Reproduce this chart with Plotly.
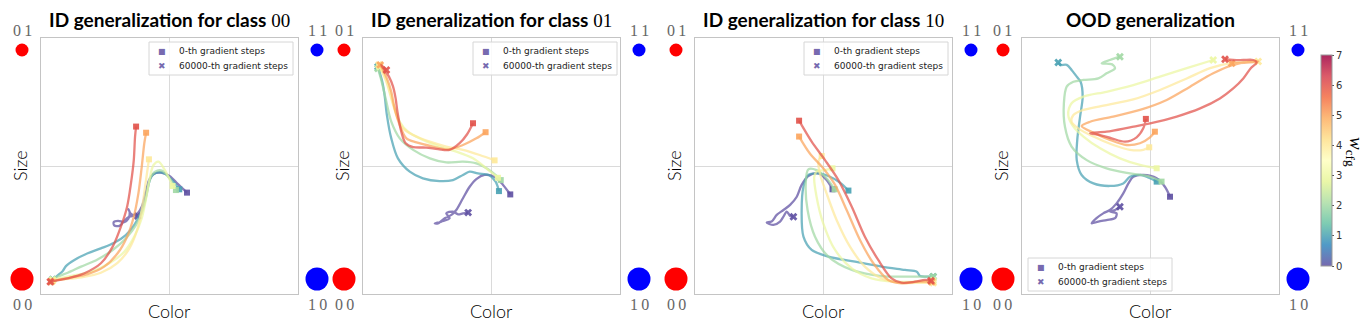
import plotly.graph_objects as go
from plotly.colors import diverging, make_colorscale, sample_colorscale

# ---------------- data ----------------
W_CFG = [0, 1, 2, 3, 4, 5, 6]
W_MAX = 7
PANEL_TITLES = ["ID generalization for class", "ID generalization for class",
                "ID generalization for class", "OOD generalization"]
PANEL_CLASS = ["00", "01", "10", ""]
LEGEND_LABELS = ["0-th gradient steps", "60000-th gradient steps"]
CORNER_LABELS = ["01", "00", "11", "10"]

# trajectories (Color, Size) for each w_cfg, from 0-th step to 60000-th step
class00_x = [
    [0.568, 0.532, 0.50, 0.467, 0.438, 0.42, 0.407, 0.392, 0.376, 0.357, 0.34, 0.324, 0.305, 0.285, 0.283, 0.30, 0.324, 0.34, 0.345, 0.34, 0.35, 0.376],
    [0.538, 0.512, 0.48, 0.454, 0.431, 0.418, 0.405, 0.387, 0.363, 0.33, 0.285, 0.233, 0.182, 0.13, 0.097, 0.084, 0.065, 0.045],
    [0.525, 0.50, 0.47, 0.444, 0.425, 0.412, 0.396, 0.37, 0.33, 0.279, 0.22, 0.156, 0.104, 0.065, 0.045],
    [0.512, 0.482, 0.457, 0.438, 0.423, 0.409, 0.392, 0.363, 0.324, 0.266, 0.195, 0.123, 0.071, 0.045],
    [0.42, 0.415, 0.405, 0.392, 0.374, 0.344, 0.298, 0.233, 0.156, 0.091, 0.045],
    [0.409, 0.402, 0.392, 0.379, 0.361, 0.335, 0.298, 0.246, 0.182, 0.117, 0.065, 0.039],
    [0.37, 0.366, 0.361, 0.35, 0.335, 0.311, 0.279, 0.233, 0.169, 0.104, 0.058, 0.036],
]
class00_y = [
    [0.396, 0.430, 0.461, 0.474, 0.469, 0.443, 0.393, 0.341, 0.315, 0.305, 0.30, 0.286, 0.266, 0.268, 0.281, 0.286, 0.281, 0.294, 0.32, 0.331, 0.313, 0.305],
    [0.409, 0.443, 0.471, 0.475, 0.461, 0.426, 0.367, 0.315, 0.27, 0.23, 0.20, 0.178, 0.159, 0.133, 0.109, 0.089, 0.073, 0.057],
    [0.406, 0.452, 0.482, 0.478, 0.452, 0.393, 0.328, 0.27, 0.217, 0.172, 0.135, 0.107, 0.083, 0.068, 0.057],
    [0.422, 0.484, 0.517, 0.504, 0.452, 0.374, 0.296, 0.224, 0.165, 0.12, 0.087, 0.072, 0.061, 0.055],
    [0.526, 0.491, 0.419, 0.328, 0.25, 0.178, 0.122, 0.083, 0.065, 0.057, 0.052],
    [0.63, 0.589, 0.497, 0.393, 0.302, 0.224, 0.159, 0.107, 0.078, 0.065, 0.055, 0.048],
    [0.654, 0.615, 0.523, 0.432, 0.341, 0.263, 0.185, 0.12, 0.081, 0.061, 0.052, 0.048],
]

class01_x = [
    [0.573, 0.545, 0.512, 0.473, 0.441, 0.415, 0.389, 0.363, 0.344, 0.318, 0.292, 0.279, 0.305, 0.337, 0.324, 0.35, 0.37, 0.389, 0.409],
    [0.529, 0.516, 0.49, 0.447, 0.415, 0.389, 0.35, 0.298, 0.233, 0.182, 0.136, 0.11, 0.093, 0.084, 0.075, 0.062, 0.058],
    [0.536, 0.5, 0.441, 0.389, 0.324, 0.26, 0.195, 0.143, 0.11, 0.088, 0.071, 0.058],
    [0.525, 0.48, 0.428, 0.363, 0.298, 0.233, 0.175, 0.143, 0.119, 0.101, 0.08, 0.065],
    [0.512, 0.454, 0.389, 0.324, 0.26, 0.195, 0.156, 0.13, 0.11, 0.091, 0.071, 0.062],
    [0.477, 0.441, 0.389, 0.331, 0.272, 0.208, 0.169, 0.143, 0.123, 0.11, 0.093, 0.075, 0.067],
    [0.428, 0.405, 0.376, 0.337, 0.292, 0.246, 0.195, 0.166, 0.149, 0.134, 0.127, 0.117, 0.101, 0.084, 0.071, 0.091],
]
class01_y = [
    [0.389, 0.426, 0.458, 0.465, 0.449, 0.419, 0.374, 0.328, 0.309, 0.296, 0.276, 0.276, 0.283, 0.296, 0.315, 0.322, 0.311, 0.315, 0.318],
    [0.402, 0.439, 0.465, 0.471, 0.478, 0.465, 0.445, 0.441, 0.452, 0.478, 0.53, 0.608, 0.699, 0.777, 0.829, 0.875, 0.888],
    [0.445, 0.478, 0.51, 0.517, 0.514, 0.53, 0.563, 0.608, 0.673, 0.764, 0.836, 0.881],
    [0.454, 0.491, 0.53, 0.556, 0.576, 0.602, 0.634, 0.673, 0.738, 0.803, 0.862, 0.888],
    [0.522, 0.543, 0.563, 0.576, 0.595, 0.621, 0.647, 0.699, 0.764, 0.829, 0.875, 0.895],
    [0.632, 0.608, 0.582, 0.565, 0.576, 0.592, 0.608, 0.66, 0.725, 0.79, 0.842, 0.881, 0.895],
    [0.667, 0.624, 0.589, 0.563, 0.566, 0.572, 0.574, 0.589, 0.634, 0.712, 0.764, 0.81, 0.849, 0.875, 0.895, 0.875],
]

class10_x = [
    [0.535, 0.512, 0.48, 0.441, 0.415, 0.396, 0.37, 0.344, 0.318, 0.298, 0.279, 0.305, 0.331, 0.344, 0.357, 0.37, 0.383],
    [0.597, 0.564, 0.519, 0.48, 0.441, 0.422, 0.415, 0.422, 0.454, 0.519, 0.623, 0.726, 0.817, 0.863, 0.876, 0.908, 0.927],
    [0.543, 0.512, 0.473, 0.441, 0.431, 0.438, 0.467, 0.519, 0.61, 0.726, 0.83, 0.927],
    [0.535, 0.506, 0.473, 0.464, 0.473, 0.499, 0.545, 0.61, 0.687, 0.778, 0.869, 0.927],
    [0.493, 0.48, 0.486, 0.512, 0.551, 0.603, 0.661, 0.726, 0.804, 0.882, 0.927],
    [0.405, 0.447, 0.499, 0.545, 0.59, 0.642, 0.694, 0.752, 0.804, 0.869, 0.921],
    [0.405, 0.454, 0.506, 0.558, 0.61, 0.661, 0.713, 0.765, 0.804, 0.856, 0.895, 0.918],
]
class10_y = [
    [0.409, 0.445, 0.471, 0.461, 0.426, 0.38, 0.348, 0.328, 0.309, 0.283, 0.279, 0.27, 0.283, 0.302, 0.322, 0.305, 0.302],
    [0.404, 0.435, 0.461, 0.471, 0.465, 0.419, 0.328, 0.224, 0.172, 0.146, 0.126, 0.107, 0.094, 0.087, 0.07, 0.068, 0.068],
    [0.409, 0.452, 0.484, 0.487, 0.432, 0.328, 0.224, 0.146, 0.094, 0.07, 0.068, 0.068],
    [0.491, 0.484, 0.478, 0.458, 0.38, 0.276, 0.172, 0.1, 0.061, 0.048, 0.048, 0.052],
    [0.539, 0.517, 0.471, 0.393, 0.289, 0.185, 0.107, 0.061, 0.044, 0.044, 0.044],
    [0.615, 0.549, 0.491, 0.426, 0.328, 0.211, 0.12, 0.055, 0.042, 0.048, 0.048],
    [0.677, 0.595, 0.523, 0.445, 0.341, 0.224, 0.133, 0.061, 0.044, 0.048, 0.055, 0.052],
]

ood_x = [
    [0.576, 0.556, 0.524, 0.472, 0.433, 0.414, 0.394, 0.368, 0.342, 0.316, 0.29, 0.271, 0.297, 0.329, 0.362, 0.368, 0.342, 0.362, 0.381],
    [0.524, 0.498, 0.459, 0.42, 0.394, 0.342, 0.278, 0.232, 0.213, 0.215, 0.226, 0.236, 0.228, 0.213, 0.193, 0.174, 0.148, 0.141],
    [0.543, 0.498, 0.42, 0.329, 0.252, 0.193, 0.167, 0.163, 0.174, 0.2, 0.239, 0.297, 0.329, 0.362, 0.349, 0.31, 0.342, 0.381],
    [0.524, 0.459, 0.381, 0.304, 0.239, 0.2, 0.18, 0.193, 0.239, 0.329, 0.433, 0.537, 0.641, 0.744],
    [0.495, 0.472, 0.42, 0.355, 0.278, 0.219, 0.193, 0.2, 0.239, 0.329, 0.433, 0.537, 0.641, 0.732, 0.822, 0.887, 0.919],
    [0.517, 0.498, 0.459, 0.407, 0.342, 0.278, 0.232, 0.265, 0.355, 0.459, 0.563, 0.654, 0.744, 0.822, 0.9, 0.919, 0.874, 0.816],
    [0.482, 0.472, 0.446, 0.401, 0.349, 0.304, 0.265, 0.329, 0.42, 0.511, 0.602, 0.693, 0.77, 0.822, 0.861, 0.89, 0.913, 0.9, 0.861, 0.822, 0.79],
]
ood_y = [
    [0.38, 0.419, 0.452, 0.465, 0.458, 0.432, 0.393, 0.354, 0.328, 0.315, 0.296, 0.276, 0.283, 0.289, 0.296, 0.315, 0.322, 0.328, 0.341],
    [0.439, 0.452, 0.465, 0.458, 0.432, 0.422, 0.432, 0.465, 0.523, 0.602, 0.693, 0.771, 0.829, 0.849, 0.875, 0.895, 0.895, 0.904],
    [0.439, 0.458, 0.471, 0.491, 0.523, 0.576, 0.654, 0.745, 0.81, 0.829, 0.836, 0.842, 0.862, 0.882, 0.898, 0.901, 0.914, 0.927],
    [0.491, 0.504, 0.53, 0.569, 0.615, 0.654, 0.699, 0.745, 0.771, 0.79, 0.816, 0.849, 0.882, 0.914],
    [0.573, 0.563, 0.563, 0.582, 0.615, 0.647, 0.673, 0.699, 0.719, 0.738, 0.76, 0.797, 0.842, 0.882, 0.904, 0.908, 0.908],
    [0.634, 0.612, 0.589, 0.582, 0.602, 0.63, 0.656, 0.673, 0.693, 0.719, 0.758, 0.81, 0.862, 0.895, 0.908, 0.908, 0.904, 0.901],
    [0.684, 0.647, 0.612, 0.595, 0.608, 0.621, 0.628, 0.634, 0.651, 0.669, 0.693, 0.725, 0.764, 0.803, 0.842, 0.882, 0.904, 0.914, 0.914, 0.914, 0.917],
]

PANELS_X = [class00_x, class01_x, class10_x, ood_x]
PANELS_Y = [class00_y, class01_y, class10_y, ood_y]

# ---------------- style / layout (pixels) ----------------
FIG_W, FIG_H = 1367, 325
BOX_LEFT = [41, 363, 695, 1022]
BOX_W = 257
BOX_TOP, BOX_BOTTOM = 38, 294
LEGEND_BOXES = [(149, 42), (473, 42), (804, 42), (1028, 258)]  # left, top
LEG_W, LEG_H = 144, 33


def px(x):
    return x / FIG_W


def py(y):
    return 1 - y / FIG_H


base_scale = make_colorscale(diverging.Spectral_r)
line_colors = sample_colorscale(base_scale, [w / W_MAX for w in W_CFG])


def with_alpha(rgb, a):
    return rgb.replace("rgb(", "rgba(").replace(")", f",{a})")


cbar_scale = [[i / 10, with_alpha(c, 0.85)] for i, c in
              enumerate(sample_colorscale(base_scale, [i / 10 for i in range(11)]))]
legend_color = with_alpha(line_colors[0], 0.85)

SANS = "Lato, 'Noto Sans', sans-serif"
SERIF = "'Liberation Serif', 'DejaVu Serif', serif"

fig = go.Figure()
for p in range(4):
    xa = "x" if p == 0 else f"x{p + 1}"
    ya = "y" if p == 0 else f"y{p + 1}"
    for k, w in enumerate(W_CFG):
        xs, ys = PANELS_X[p][k], PANELS_Y[p][k]
        col = line_colors[k]
        fig.add_trace(go.Scatter(
            x=xs, y=ys, mode="lines", xaxis=xa, yaxis=ya,
            line=dict(color=col, width=2.3, shape="spline", smoothing=0.9),
            opacity=0.72, showlegend=False, hoverinfo="skip"))
        fig.add_trace(go.Scatter(
            x=[xs[0]], y=[ys[0]], mode="markers", xaxis=xa, yaxis=ya,
            marker=dict(symbol="square", size=6, color=col), opacity=0.9,
            showlegend=False, hoverinfo="skip"))
        fig.add_trace(go.Scatter(
            x=[xs[-1]], y=[ys[-1]], mode="markers", xaxis=xa, yaxis=ya,
            marker=dict(symbol="x", size=7, color=col), opacity=0.9,
            showlegend=False, hoverinfo="skip"))

# colorbar
fig.add_trace(go.Scatter(
    x=[None], y=[None], mode="markers", xaxis="x4", yaxis="y4", showlegend=False,
    marker=dict(color=[0], cmin=0, cmax=W_MAX, colorscale=cbar_scale, showscale=True,
                colorbar=dict(x=px(1321), xanchor="left", xpad=0, ypad=0,
                              y=py(160.5), yanchor="middle", len=211 / FIG_H,
                              thickness=11, outlinewidth=1, outlinecolor="#999",
                              tickvals=list(range(W_MAX + 1)), ticks="outside", ticklen=2,
                              tickcolor="#555",
                              tickfont=dict(family="DejaVu Sans", size=10, color="#333")))))

layout = dict(width=FIG_W, height=FIG_H, margin=dict(l=0, r=0, t=0, b=0),
              paper_bgcolor="white", plot_bgcolor="white", showlegend=False)
ydom = [py(BOX_BOTTOM), py(BOX_TOP)]
annotations, shapes = [], []
for p in range(4):
    suf = "" if p == 0 else str(p + 1)
    left, right = BOX_LEFT[p], BOX_LEFT[p] + BOX_W
    axis_common = dict(range=[0, 1], showline=True, mirror=True, linecolor="#c4c4c4",
                       linewidth=1, showgrid=True, gridcolor="#dadada", gridwidth=1,
                       tickvals=[0.5], showticklabels=False, ticks="", zeroline=False,
                       fixedrange=True)
    layout["xaxis" + suf] = dict(domain=[px(left), px(right)], anchor="y" + suf, **axis_common)
    layout["yaxis" + suf] = dict(domain=ydom, anchor="x" + suf, **axis_common)
    cx = (left + right) / 2
    # title
    ttl = f"<b>{PANEL_TITLES[p]}</b>"
    if PANEL_CLASS[p]:
        ttl += f" <span style=\"font-family:'Liberation Serif';font-weight:normal\">{PANEL_CLASS[p]}</span>"
    annotations.append(dict(text=ttl, xref="paper", yref="paper", x=px(cx), y=py(19.5),
                            showarrow=False, yanchor="middle", xanchor="center",
                            font=dict(family=SANS, size=19, color="black")))
    annotations.append(dict(text="Color", xref="paper", yref="paper", x=px(cx), y=py(311),
                            showarrow=False, yanchor="middle", xanchor="center",
                            font=dict(family=SANS, size=18, color="black", weight=300)))
    annotations.append(dict(text="Size", xref="paper", yref="paper", x=px(left - 21),
                            y=py((BOX_TOP + BOX_BOTTOM) / 2), showarrow=False, textangle=-90,
                            xanchor="center", yanchor="middle",
                            font=dict(family=SANS, size=18, color="black", weight=300)))
    # corner prototypes (circles) and their labels
    lx, rx = left - 19, right + 19
    for (cxp, cyp, r, col) in [(lx, 50, 6.5, "#ff0000"), (lx, 279, 11.5, "#ff0000"),
                               (rx, 50, 6.5, "#0000ff"), (rx, 279, 11.5, "#0000ff")]:
        shapes.append(dict(type="circle", xref="paper", yref="paper",
                           xsizemode="pixel", ysizemode="pixel",
                           xanchor=px(cxp), yanchor=py(cyp),
                           x0=-r, x1=r, y0=-r, y1=r,
                           fillcolor=col, line=dict(width=0), layer="above"))
    for lab, lxp, lyp in zip(CORNER_LABELS, [lx, lx, rx, rx], [30, 304, 30, 304]):
        annotations.append(dict(text=lab[0] + "\u2009" + lab[1], xref="paper", yref="paper",
                                x=px(lxp), y=py(lyp), showarrow=False,
                                xanchor="center", yanchor="middle",
                                font=dict(family=SERIF, size=16, color="#666")))
    # legend box
    gl, gt = LEGEND_BOXES[p]
    shapes.append(dict(type="rect", xref="paper", yref="paper",
                       x0=px(gl), x1=px(gl + LEG_W), y0=py(gt + LEG_H), y1=py(gt),
                       fillcolor="rgba(255,255,255,0.85)", line=dict(color="#d6d6d6", width=1),
                       layer="above"))
    for j, (glyph, gsize) in enumerate([("\u25A0", 8), ("\u2716", 9)]):
        rowy = gt + 9 + 15 * j
        annotations.append(dict(text=glyph, xref="paper", yref="paper", x=px(gl + 13),
                                y=py(rowy), showarrow=False, xanchor="center", yanchor="middle",
                                font=dict(family="DejaVu Sans", size=gsize, color=legend_color)))
        annotations.append(dict(text=LEGEND_LABELS[j], xref="paper", yref="paper",
                                x=px(gl + 28), y=py(rowy), showarrow=False,
                                xanchor="left", yanchor="middle",
                                font=dict(family="DejaVu Sans", size=9, color="#222")))

annotations.append(dict(text="<i>w</i><sub>cfg</sub>", xref="paper", yref="paper",
                        x=px(1355), y=py(152), showarrow=False, textangle=90,
                        xanchor="center", yanchor="middle",
                        font=dict(family=SERIF, size=19, color="black")))
layout["annotations"] = annotations
layout["shapes"] = shapes

fig.update_layout(**layout)
fig.write_html("out.html", config={"displayModeBar": False},
               post_script="document.body.style.margin='0';document.body.style.overflow='hidden';")
